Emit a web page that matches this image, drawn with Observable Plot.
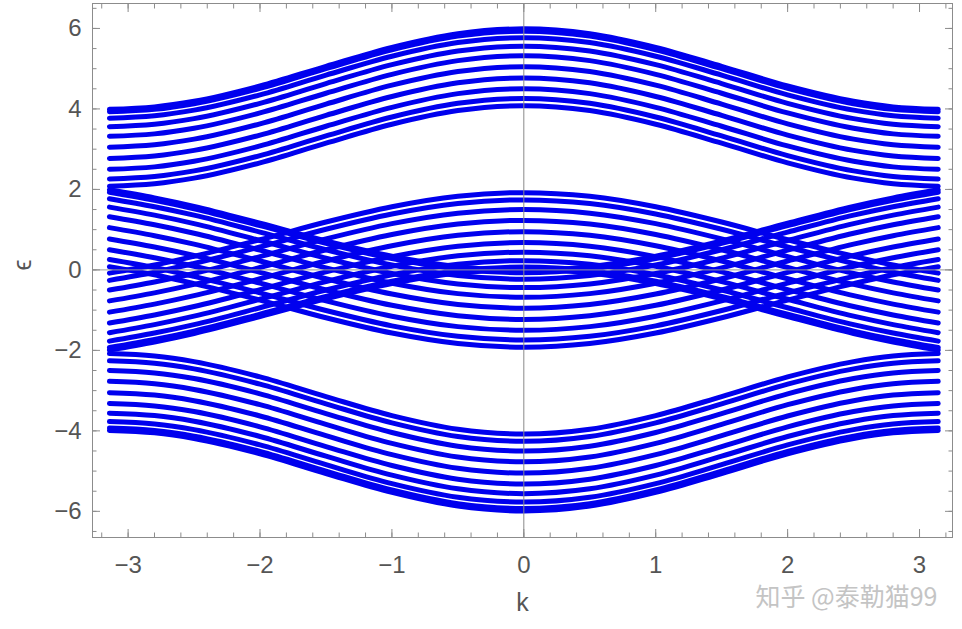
<!DOCTYPE html>
<html>
<head>
<meta charset="utf-8">
<script src="https://cdn.jsdelivr.net/npm/d3@7"></script>
<script src="https://cdn.jsdelivr.net/npm/@observablehq/plot@0.6"></script>
<style>
  html, body { margin: 0; padding: 0; background: #fff; }
  #chart svg { display: block; }
</style>
</head>
<body>
<div id="chart"></div>
<script>
// momentum samples (k from -π to π)
const kGrid = [-3.1416, -2.8, -2.5, -2, -1.5, -1, -0.5, 0, 0.5, 1, 1.5, 2, 2.5, 2.8, 3.1416];

// upper group of bands (ε between 2 and 6)
const upperBand = [
  [3.99,4.05,4.19,4.57,5.06,5.53,5.87,5.99,5.87,5.53,5.06,4.57,4.19,4.05,3.99],
  [3.93,3.99,4.13,4.51,5.00,5.47,5.81,5.93,5.81,5.47,5.00,4.51,4.13,3.99,3.93],
  [3.77,3.83,3.97,4.35,4.84,5.31,5.65,5.77,5.65,5.31,4.84,4.35,3.97,3.83,3.77],
  [3.56,3.62,3.76,4.14,4.63,5.10,5.44,5.56,5.44,5.10,4.63,4.14,3.76,3.62,3.56],
  [3.32,3.38,3.52,3.90,4.39,4.86,5.20,5.32,5.20,4.86,4.39,3.90,3.52,3.38,3.32],
  [3.05,3.11,3.25,3.63,4.12,4.59,4.93,5.05,4.93,4.59,4.12,3.63,3.25,3.11,3.05],
  [2.77,2.83,2.97,3.35,3.84,4.31,4.65,4.77,4.65,4.31,3.84,3.35,2.97,2.83,2.77],
  [2.50,2.56,2.70,3.08,3.57,4.04,4.38,4.50,4.38,4.04,3.57,3.08,2.70,2.56,2.50],
  [2.26,2.32,2.46,2.84,3.33,3.80,4.14,4.26,4.14,3.80,3.33,2.84,2.46,2.32,2.26],
  [2.08,2.14,2.28,2.66,3.15,3.62,3.96,4.08,3.96,3.62,3.15,2.66,2.28,2.14,2.08]
];

// lower group of bands (ε between -6 and -2)
const lowerBand = [
  [-3.99,-4.05,-4.19,-4.57,-5.06,-5.53,-5.87,-5.99,-5.87,-5.53,-5.06,-4.57,-4.19,-4.05,-3.99],
  [-3.93,-3.99,-4.13,-4.51,-5.00,-5.47,-5.81,-5.93,-5.81,-5.47,-5.00,-4.51,-4.13,-3.99,-3.93],
  [-3.77,-3.83,-3.97,-4.35,-4.84,-5.31,-5.65,-5.77,-5.65,-5.31,-4.84,-4.35,-3.97,-3.83,-3.77],
  [-3.56,-3.62,-3.76,-4.14,-4.63,-5.10,-5.44,-5.56,-5.44,-5.10,-4.63,-4.14,-3.76,-3.62,-3.56],
  [-3.32,-3.38,-3.52,-3.90,-4.39,-4.86,-5.20,-5.32,-5.20,-4.86,-4.39,-3.90,-3.52,-3.38,-3.32],
  [-3.05,-3.11,-3.25,-3.63,-4.12,-4.59,-4.93,-5.05,-4.93,-4.59,-4.12,-3.63,-3.25,-3.11,-3.05],
  [-2.77,-2.83,-2.97,-3.35,-3.84,-4.31,-4.65,-4.77,-4.65,-4.31,-3.84,-3.35,-2.97,-2.83,-2.77],
  [-2.50,-2.56,-2.70,-3.08,-3.57,-4.04,-4.38,-4.50,-4.38,-4.04,-3.57,-3.08,-2.70,-2.56,-2.50],
  [-2.26,-2.32,-2.46,-2.84,-3.33,-3.80,-4.14,-4.26,-4.14,-3.80,-3.33,-2.84,-2.46,-2.32,-2.26],
  [-2.08,-2.14,-2.28,-2.66,-3.15,-3.62,-3.96,-4.08,-3.96,-3.62,-3.15,-2.66,-2.28,-2.14,-2.08]
];

// middle bands falling from +ε at k=±π toward k=0
const fallingBand = [
  [1.99,1.79,1.58,1.16,0.72,0.34,0.08,-0.01,0.08,0.34,0.72,1.16,1.58,1.79,1.99],
  [1.93,1.73,1.52,1.10,0.66,0.28,0.02,-0.07,0.02,0.28,0.66,1.10,1.52,1.73,1.93],
  [1.77,1.57,1.36,0.94,0.50,0.12,-0.14,-0.23,-0.14,0.12,0.50,0.94,1.36,1.57,1.77],
  [1.56,1.36,1.15,0.73,0.29,-0.09,-0.35,-0.44,-0.35,-0.09,0.29,0.73,1.15,1.36,1.56],
  [1.32,1.12,0.91,0.49,0.05,-0.33,-0.59,-0.68,-0.59,-0.33,0.05,0.49,0.91,1.12,1.32],
  [1.05,0.85,0.64,0.22,-0.22,-0.60,-0.86,-0.95,-0.86,-0.60,-0.22,0.22,0.64,0.85,1.05],
  [0.77,0.57,0.36,-0.06,-0.50,-0.88,-1.14,-1.23,-1.14,-0.88,-0.50,-0.06,0.36,0.57,0.77],
  [0.50,0.30,0.09,-0.33,-0.77,-1.15,-1.41,-1.50,-1.41,-1.15,-0.77,-0.33,0.09,0.30,0.50],
  [0.26,0.06,-0.16,-0.57,-1.01,-1.39,-1.65,-1.74,-1.65,-1.39,-1.01,-0.57,-0.16,0.06,0.26],
  [0.08,-0.12,-0.34,-0.75,-1.19,-1.57,-1.83,-1.92,-1.83,-1.57,-1.19,-0.75,-0.34,-0.12,0.08]
];

// middle bands rising from -ε at k=±π toward k=0
const risingBand = [
  [-1.99,-1.79,-1.58,-1.16,-0.72,-0.34,-0.08,0.01,-0.08,-0.34,-0.72,-1.16,-1.58,-1.79,-1.99],
  [-1.93,-1.73,-1.52,-1.10,-0.66,-0.28,-0.02,0.07,-0.02,-0.28,-0.66,-1.10,-1.52,-1.73,-1.93],
  [-1.77,-1.57,-1.36,-0.94,-0.50,-0.12,0.14,0.23,0.14,-0.12,-0.50,-0.94,-1.36,-1.57,-1.77],
  [-1.56,-1.36,-1.15,-0.73,-0.29,0.09,0.35,0.44,0.35,0.09,-0.29,-0.73,-1.15,-1.36,-1.56],
  [-1.32,-1.12,-0.91,-0.49,-0.05,0.33,0.59,0.68,0.59,0.33,-0.05,-0.49,-0.91,-1.12,-1.32],
  [-1.05,-0.85,-0.64,-0.22,0.22,0.60,0.86,0.95,0.86,0.60,0.22,-0.22,-0.64,-0.85,-1.05],
  [-0.77,-0.57,-0.36,0.06,0.50,0.88,1.14,1.23,1.14,0.88,0.50,0.06,-0.36,-0.57,-0.77],
  [-0.50,-0.30,-0.09,0.33,0.77,1.15,1.41,1.50,1.41,1.15,0.77,0.33,-0.09,-0.30,-0.50],
  [-0.26,-0.06,0.16,0.57,1.01,1.39,1.65,1.74,1.65,1.39,1.01,0.57,0.16,-0.06,-0.26],
  [-0.08,0.12,0.34,0.75,1.19,1.57,1.83,1.92,1.83,1.57,1.19,0.75,0.34,0.12,-0.08]
];

const xMajorTicks = [-3, -2, -1, 0, 1, 2, 3];
const yMajorTicks = [-6, -4, -2, 0, 2, 4, 6];
const xLabel = "k";
const yLabel = "ϵ";
const watermark = "知乎 @泰勒猫99";

// long table built from the arrays above
const rows = [];
const groups = {upper: upperBand, lower: lowerBand, falling: fallingBand, rising: risingBand};
for (const [name, bands] of Object.entries(groups)) {
  bands.forEach((vals, i) => {
    vals.forEach((e, j) => rows.push({id: name + i, k: kGrid[j], e}));
  });
}

const fmt = d => (d < 0 ? "\u2212" + Math.abs(d) : String(d));
const frameGray = "#8c8c8c";
const labelGray = "#555";

const chart = Plot.plot({
  width: 962,
  height: 629,
  marginLeft: 92,
  marginRight: 10,
  marginTop: 3,
  marginBottom: 92,
  x: {domain: [-3.27, 3.25], label: null},
  y: {domain: [-6.65, 6.62], label: null},
  style: {fontFamily: "'Liberation Sans', Arial, sans-serif", background: "#fff"},
  marks: [
    Plot.line(rows, {x: "k", y: "e", z: "id", stroke: "#0000ee", strokeWidth: 5, curve: "monotone-x"}),
    Plot.ruleX([0], {stroke: "#8a8a8a", strokeWidth: 1}),
    Plot.ruleY([0], {stroke: "#9a9a9a", strokeWidth: 1}),
    Plot.frame({stroke: frameGray}),
    // minor ticks (inward)
    Plot.axisX({anchor: "bottom", ticks: 30, tickSize: -4.5, tickFormat: () => "", stroke: frameGray, label: null}),
    Plot.axisX({anchor: "top", ticks: 30, tickSize: -4.5, tickFormat: () => "", stroke: frameGray, label: null}),
    Plot.axisY({anchor: "left", ticks: 26, tickSize: -4.5, tickFormat: () => "", stroke: frameGray, label: null}),
    Plot.axisY({anchor: "right", ticks: 26, tickSize: -4.5, tickFormat: () => "", stroke: frameGray, label: null}),
    // major ticks and labels
    Plot.axisX(xMajorTicks, {anchor: "bottom", tickSize: -8, tickPadding: 26, tickFormat: fmt, stroke: frameGray, fill: labelGray, fontSize: 24, label: null}),
    Plot.axisX(xMajorTicks, {anchor: "top", tickSize: -8, tickFormat: () => "", stroke: frameGray, label: null}),
    Plot.axisY(yMajorTicks, {anchor: "left", tickSize: -8, tickPadding: 19, tickFormat: fmt, stroke: frameGray, fill: labelGray, fontSize: 24, label: null}),
    Plot.axisY(yMajorTicks, {anchor: "right", tickSize: -8, tickFormat: () => "", stroke: frameGray, label: null}),
    // axis titles
    Plot.text([xLabel], {frameAnchor: "bottom", dy: 73, fontSize: 25, fill: labelGray}),
    Plot.text([yLabel], {frameAnchor: "left", dx: -70, rotate: -90, fontSize: 25, fill: labelGray}),
    // watermark
    Plot.text([watermark], {frameAnchor: "bottom-right", dx: -15, dy: 68, textAnchor: "end", fontSize: 25, fill: "#c4c4c4", fontFamily: "'Noto Sans CJK SC', sans-serif"})
  ]
});

document.getElementById("chart").appendChild(chart);
</script>
</body>
</html>
